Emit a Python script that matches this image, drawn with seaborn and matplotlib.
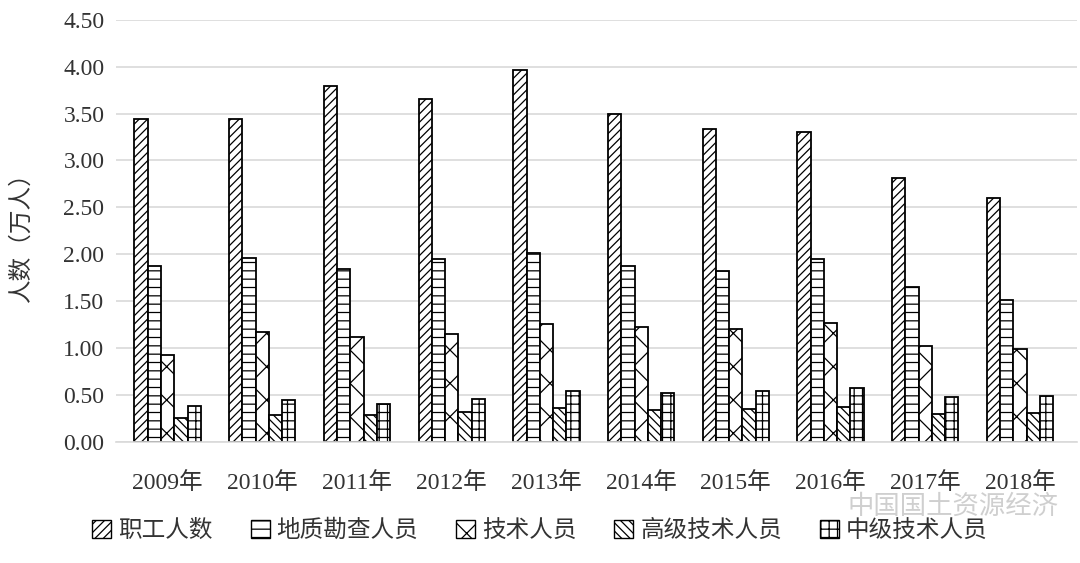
import matplotlib
matplotlib.use("Agg")
import matplotlib.pyplot as plt
import seaborn as sns
import pandas as pd
from matplotlib.patches import Patch

years = ["2009年", "2010年", "2011年", "2012年", "2013年",
         "2014年", "2015年", "2016年", "2017年", "2018年"]
series = ["职工人数", "地质勘查人员", "技术人员", "高级技术人员", "中级技术人员"]
staff = [3.44, 3.44, 3.79, 3.65, 3.96, 3.50, 3.33, 3.30, 2.81, 2.60]
survey = [1.88, 1.96, 1.84, 1.95, 2.01, 1.87, 1.82, 1.95, 1.65, 1.51]
tech = [0.93, 1.17, 1.12, 1.15, 1.26, 1.22, 1.20, 1.27, 1.02, 0.99]
senior = [0.25, 0.29, 0.29, 0.32, 0.36, 0.34, 0.35, 0.37, 0.30, 0.31]
middle = [0.38, 0.45, 0.40, 0.46, 0.54, 0.52, 0.54, 0.58, 0.48, 0.49]

hatches = ["////", "--", "x", "\\\\\\\\", "++"]

df = pd.DataFrame({"year": years, series[0]: staff, series[1]: survey,
                   series[2]: tech, series[3]: senior, series[4]: middle})
df_melt = df.melt(id_vars="year", var_name="kind", value_name="value")

sns.set_style("white")
plt.rcParams["font.family"] = ["Liberation Serif", "Noto Sans CJK SC"]
plt.rcParams["hatch.linewidth"] = 0.9

fig = plt.figure(figsize=(10.8, 5.63), dpi=100)
ax = fig.add_axes([0.107, 0.215, 0.89, 0.75])

sns.barplot(data=df_melt, x="year", y="value", hue="kind", ax=ax,
            palette=["white"] * 5, edgecolor="black", linewidth=1.3,
            width=0.7, gap=0, legend=False, errorbar=None)

for cont, h in zip(ax.containers, hatches):
    for bar in cont:
        bar.set_hatch(h)

ax.set_ylim(0, 4.5)
ax.set_yticks([i * 0.5 for i in range(10)])
ax.set_yticklabels([f"{i * 0.5:.2f}" for i in range(10)], fontsize=17, color="#333333")
ax.tick_params(axis="x", labelsize=17, colors="#333333", pad=22, length=0)
ax.tick_params(axis="y", length=0, pad=8)
ax.grid(axis="y", color="#d9d9d9", linewidth=1.2)
ax.set_axisbelow(True)
for s in ["top", "right", "left"]:
    ax.spines[s].set_visible(False)
ax.spines["bottom"].set_color("#d9d9d9")
ax.spines["bottom"].set_linewidth(1.2)
ax.set_xlabel("")
ax.set_ylabel("人数（万人）", fontsize=17, color="#333333", labelpad=22)
ax.set_xlim(-0.55, 9.6)

handles = [Patch(facecolor="white", edgecolor="black", hatch=h, label=s)
           for h, s in zip(hatches, series)]
fig.legend(handles=handles, loc="center", bbox_to_anchor=(0.5, 0.057), ncol=5,
           frameon=False, fontsize=17, handlelength=0.8, handleheight=0.8,
           handletextpad=0.3, columnspacing=1.6, labelcolor="#333333")

# faint watermark, as in the source image
fig.text(0.785, 0.088, "中国国土资源经济", fontsize=19, color="#bbbbbb", alpha=0.7,
         family=["Noto Sans CJK SC"])

plt.savefig("out.png", dpi=100)
